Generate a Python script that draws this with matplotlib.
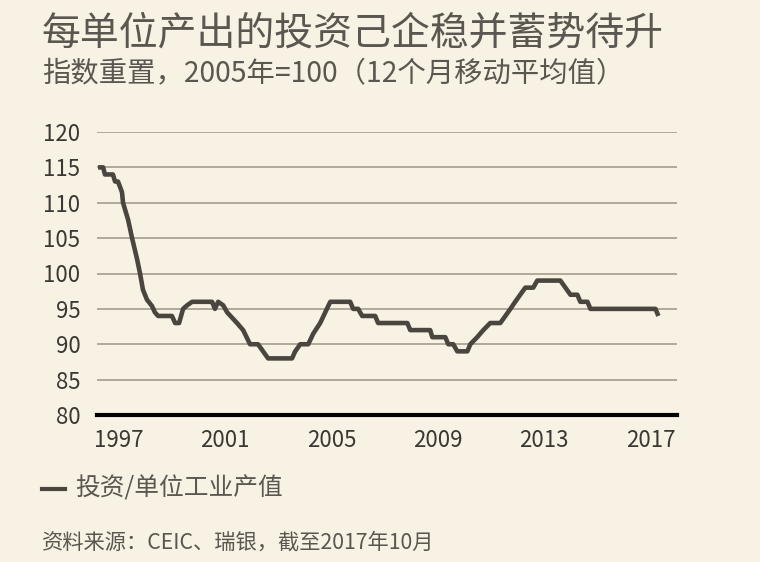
import numpy as np
import matplotlib
matplotlib.use("Agg")
import matplotlib.pyplot as plt

plt.rcParams['font.family'] = ['Noto Sans CJK SC', 'DejaVu Sans']

# series (decimal year, index value)
years = [1996.21, 1996.40, 1996.47, 1996.77, 1996.85, 1996.96, 1997.11, 1997.15,
         1997.34, 1997.49, 1997.68, 1997.79, 1997.90, 1998.05, 1998.24, 1998.35,
         1998.47, 1998.99, 1999.11, 1999.26, 1999.41, 1999.56, 1999.75, 2000.50,
         2000.61, 2000.73, 2000.92, 2001.07, 2001.44, 2001.67, 2001.93, 2002.23,
         2002.42, 2002.61, 2003.51, 2003.63, 2003.82, 2004.12, 2004.31, 2004.57,
         2004.76, 2004.95, 2005.70, 2005.81, 2006.00, 2006.15, 2006.64, 2006.75,
         2007.85, 2007.96, 2008.71, 2008.79, 2009.28, 2009.39, 2009.58, 2009.73,
         2010.11, 2010.22, 2010.48, 2010.71, 2010.97, 2011.35, 2011.54, 2011.73,
         2011.91, 2012.10, 2012.29, 2012.59, 2012.74, 2013.61, 2013.80, 2013.99,
         2014.25, 2014.36, 2014.63, 2014.74, 2017.19, 2017.30]
values = [115, 115, 114, 114, 113, 113, 111.5, 110,
          107.6, 105, 102, 100, 97.7, 96.3, 95.4, 94.5,
          94, 94, 93, 93, 95, 95.5, 96, 96,
          95, 96, 95.5, 94.5, 93, 92, 90, 90,
          89, 88, 88, 89, 90, 90, 91.5, 93,
          94.5, 96, 96, 95, 95, 94, 94, 93,
          93, 92, 92, 91, 91, 90, 90, 89,
          89, 90, 91, 92, 93, 93, 94, 95,
          96, 97, 98, 98, 99, 99, 98, 97,
          97, 96, 96, 95, 95, 94]

xticks = [1997, 2001, 2005, 2009, 2013, 2017]
yticks = [80, 85, 90, 95, 100, 105, 110, 115, 120]

title = '每单位产出的投资己企稳并蓄势待升'
subtitle = '指数重置，2005年=100（12个月移动平均值）'
legend_label = '投资/单位工业产值'
source = '资料来源：CEIC、瑞银，截至2017年10月'

bg = '#f8f2e4'
line_col = '#4a453f'
text_col = '#3a3835'
head_col = '#5a5650'

fig = plt.figure(figsize=(7.6, 5.62), dpi=100, facecolor=bg)
ax = fig.add_axes([97/760, 1-415/562, 580/760, 283/562], facecolor=bg)

for y in yticks[1:]:
    ax.axhline(y, color='#a59d8e', lw=1.2, zorder=1)

ax.plot(years, values, color=line_col, lw=3.3, zorder=3, solid_capstyle='butt')

ax.set_xlim(1996.17, 2018.0)
ax.set_ylim(80, 120)
ax.set_xticks(xticks)
ax.set_yticks(yticks)
ax.tick_params(length=0, labelsize=16, labelcolor=text_col)
ax.tick_params(axis='y', pad=12)
ax.tick_params(axis='x', pad=10)

for s in ['top', 'right', 'left']:
    ax.spines[s].set_visible(False)
ax.spines['bottom'].set_color('black')
ax.spines['bottom'].set_linewidth(3)
ax.spines['bottom'].set_zorder(4)

fig.text(42/760, 1-33/562, title, fontsize=28, color=head_col, va='center', ha='left',
         fontweight='light')
fig.text(42/760, 1-73/562, subtitle, fontsize=20.4, color=head_col, va='center', ha='left')

fig.lines.append(plt.Line2D([42/760, 65/760], [1-489/562, 1-489/562],
                            transform=fig.transFigure, color=line_col, lw=3))
fig.text(75/760, 1-489/562, legend_label, fontsize=17.8, color=head_col, va='center', ha='left')
fig.text(42/760, 1-543/562, source, fontsize=15.3, color=head_col, va='center', ha='left')

fig.savefig('out.png', dpi=100, facecolor=bg)
